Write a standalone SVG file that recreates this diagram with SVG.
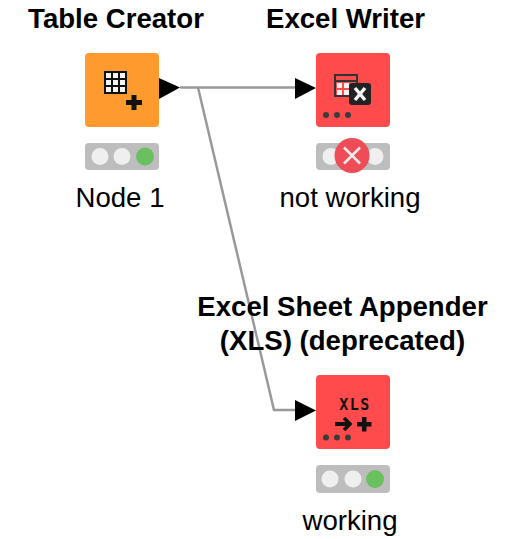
<svg xmlns="http://www.w3.org/2000/svg" width="512" height="539" viewBox="0 0 512 539">
<style>
text{font-family:"Liberation Sans",Arial,sans-serif;font-size:27.600px;fill:#000;text-anchor:middle}
.t{font-weight:bold}
.o{fill:#ff9a2e}.r{fill:#ff4b4b}.tl{fill:#bdbdbd}
.off{fill:#efefef}.on{fill:#6abf5e}
.edge{fill:none;stroke:#999;stroke-width:2.500}
.port{fill:#000}
.dot{fill:#3c3c3c}
</style>
<rect width="512" height="539" fill="#fff"/>
<g id="connectors">
<path class="edge" d="M180 87.500H295"/>
<path class="edge" d="M198 87.500L274 410H295"/>
</g>
<g id="node-table-creator">
<text class="t" x="116" y="28">Table Creator</text>
<rect class="o" x="85" y="53" width="74" height="74" rx="4"/>
<rect x="104" y="71" width="23" height="23" fill="#111"/>
<g fill="#f4f4f4"><rect x="106" y="73" width="5" height="5"/><rect x="113" y="73" width="5" height="5"/><rect x="120" y="73" width="5" height="5"/><rect x="106" y="80" width="5" height="5"/><rect x="113" y="80" width="5" height="5"/><rect x="120" y="80" width="5" height="5"/><rect x="106" y="87" width="5" height="5"/><rect x="113" y="87" width="5" height="5"/><rect x="120" y="87" width="5" height="5"/></g>
<path d="M131.500 95h5v5h5.500v5h-5.500v5h-5v-5h-5.500v-5h5.500z" fill="#111"/>
<path class="port" d="M159 78L180 87.500L159 99z"/>
<rect class="tl" x="85" y="143" width="74" height="27" rx="4"/>
<circle class="off" cx="100" cy="156.500" r="8.500"/><circle class="off" cx="122" cy="156.500" r="8.500"/><circle class="on" cx="145" cy="156.500" r="9"/>
<text x="120" y="207">Node 1</text>
</g>
<g id="node-excel-writer">
<text class="t" x="345.500" y="28">Excel Writer</text>
<rect class="r" x="316" y="53" width="74" height="74" rx="4"/>
<rect x="335" y="75" width="22" height="21" fill="none" stroke="#333" stroke-width="2"/>
<path d="M335 81h22" stroke="#333" stroke-width="2"/>
<g fill="#f4f4f4"><rect x="337" y="83" width="5" height="5"/><rect x="344" y="83" width="5" height="5"/><rect x="337" y="90" width="5" height="5"/><rect x="344" y="90" width="5" height="5"/></g>
<rect x="349" y="83" width="22" height="22" rx="3" fill="#222"/>
<path d="M355 88L365 100M365 88L355 100" stroke="#f4f4f4" stroke-width="3.500"/>
<circle class="dot" cx="326" cy="115" r="3"/><circle class="dot" cx="337" cy="115" r="3"/><circle class="dot" cx="348" cy="115" r="3"/>
<path class="port" d="M295 78L316 88L295 99z"/>
<rect class="tl" x="316" y="143" width="74" height="27" rx="4"/>
<circle class="off" cx="331" cy="156.500" r="8.500"/><circle class="off" cx="375" cy="156.500" r="8.500"/>
<circle cx="352" cy="155.500" r="17.500" fill="#ee4c57"/>
<path d="M344 147.500L360 163.500M360 147.500L344 163.500" stroke="#fbeaea" stroke-width="2.500"/>
<text x="350" y="207">not working</text>
</g>
<g id="node-excel-sheet-appender">
<text class="t" x="342.500" y="316">Excel Sheet Appender</text>
<text class="t" x="342.500" y="350">(XLS) (deprecated)</text>
<rect class="r" x="316" y="375" width="74" height="74" rx="4"/>
<text x="355" y="410" style="font-family:'DejaVu Sans Mono',monospace;font-size:15px;font-weight:bold;letter-spacing:1.500px;fill:#111">XLS</text>
<path d="M335 424h13" stroke="#111" stroke-width="4" fill="none"/>
<path d="M344 418l6 6l-6 6" stroke="#111" stroke-width="3.500" fill="none"/>
<path d="M362 417h4.500v5h5v4.500h-5v5h-4.500v-5h-5v-4.500h5z" fill="#111"/>
<circle class="dot" cx="326" cy="437.500" r="3"/><circle class="dot" cx="337" cy="437.500" r="3"/><circle class="dot" cx="348" cy="437.500" r="3"/>
<path class="port" d="M295 400L316 410.500L295 421z"/>
<rect class="tl" x="316" y="465" width="74" height="28" rx="4"/>
<circle class="off" cx="330" cy="479" r="8.500"/><circle class="off" cx="353" cy="479" r="8.500"/><circle class="on" cx="375" cy="479" r="9"/>
<text x="350" y="530">working</text>
</g>
</svg>
